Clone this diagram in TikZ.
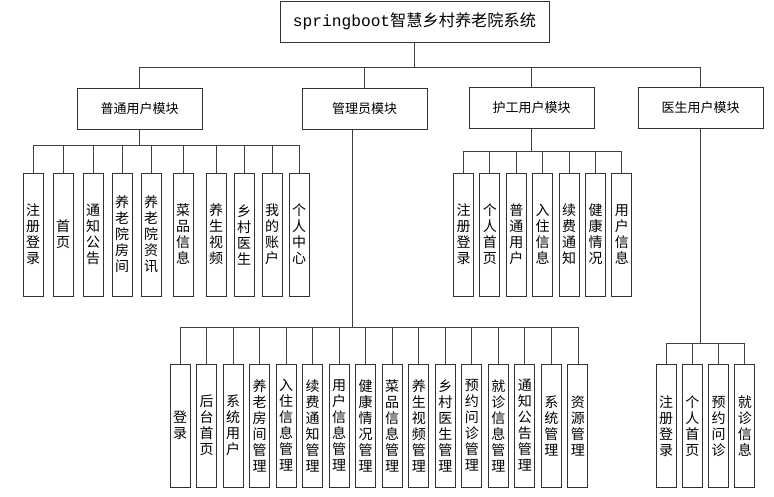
\documentclass[tikz,border=0pt]{standalone}
\usepackage{fontspec}
\setmainfont{Noto Sans CJK SC}
\newfontfamily\latinmono{Liberation Mono}
\tikzset{
	rootbox/.style={draw=black!80,line width=1pt,fill=white,minimum width=269pt,minimum height=41pt,inner sep=0pt,font=\fontsize{16.2}{19}\selectfont},
	modbox/.style={draw=black!80,line width=1pt,fill=white,minimum width=125pt,minimum height=41pt,inner sep=0pt,font=\fontsize{13}{15}\selectfont},
	leafbox/.style={draw=black!80,line width=1pt,fill=white,minimum width=20pt,minimum height=123pt,inner sep=0pt,align=center,font=\fontsize{14}{16}\selectfont},
	link/.style={draw=black!75,line width=0.9pt}
}
\begin{document}
\begin{tikzpicture}[x=1pt,y=-1pt]
	\useasboundingbox (0,0) rectangle (774,496);
	
	% top and module boxes
	\node[rootbox] (sys) at (414.5,21.5) {{\latinmono springboot}智慧乡村养老院系统};
	\node[modbox] (user) at (139.5,108.5) {普通用户模块};
	\node[modbox] (admin) at (364.5,108.5) {管理员模块};
	\node[modbox] (nurse) at (531.5,107.5) {护工用户模块};
	\node[modbox] (doctor) at (700.5,107.5) {医生用户模块};
	
	\coordinate (busTop) at (0,67);
	\draw[link] (sys.south) -- (sys.south |- busTop);
	\draw[link] (user.north |- busTop) -- (doctor.north |- busTop);
	\foreach \m in {user,admin,nurse,doctor}{%
		\draw[link] (\m.north) -- (\m.north |- busTop);
	}
	
	% ordinary user leaves
	\foreach \x/\t [count=\i] in {33/{注\\册\\登\\录},63/{首\\页},93/{通\\知\\公\\告},122/{养\\老\\院\\房\\间},151/{养\\老\\院\\资\\讯},183/{菜\\品\\信\\息},216/{养\\生\\视\\频},244/{乡\\村\\医\\生},272/{我\\的\\账\\户},299/{个\\人\\中\\心}}{%
		\node[leafbox] (u\i) at (\x,234.5) {\t};
	}
	\coordinate (busUser) at (0,145);
	\draw[link] (user.south) -- (user.south |- busUser);
	\draw[link] (u1.north |- busUser) -- (u10.north |- busUser);
	\foreach \i in {1,...,10}{%
		\draw[link] (u\i.north) -- (u\i.north |- busUser);
	}
	
	% admin leaves
	\foreach \t [count=\i] in {{登\\录},{后\\台\\首\\页},{系\\统\\用\\户},{养\\老\\房\\间\\管\\理},{入\\住\\信\\息\\管\\理},{续\\费\\通\\知\\管\\理},{用\\户\\信\\息\\管\\理},{健\\康\\情\\况\\管\\理},{菜\\品\\信\\息\\管\\理},{养\\生\\视\\频\\管\\理},{乡\\村\\医\\生\\管\\理},{预\\约\\问\\诊\\管\\理},{就\\诊\\信\\息\\管\\理},{通\\知\\公\\告\\管\\理},{系\\统\\管\\理},{资\\源\\管\\理}}{%
		\node[leafbox] (a\i) at ({180+(\i-1)*26.53},425.5) {\t};
	}
	\coordinate (busAdmin) at (0,327);
	\coordinate (adminDrop) at ([xshift=-12pt]admin.south);
	\draw[link] (adminDrop) -- (adminDrop |- busAdmin);
	\draw[link] (a1.north |- busAdmin) -- (a16.north |- busAdmin);
	\foreach \i in {1,...,16}{%
		\draw[link] (a\i.north) -- (a\i.north |- busAdmin);
	}
	
	% nurse leaves
	\foreach \t [count=\i] in {{注\\册\\登\\录},{个\\人\\首\\页},{普\\通\\用\\户},{入\\住\\信\\息},{续\\费\\通\\知},{健\\康\\情\\况},{用\\户\\信\\息}}{%
		\node[leafbox] (n\i) at ({463.5+(\i-1)*26.4},234.5) {\t};
	}
	\coordinate (busNurse) at (0,151);
	\draw[link] (nurse.south) -- (nurse.south |- busNurse);
	\draw[link] (n1.north |- busNurse) -- (n7.north |- busNurse);
	\foreach \i in {1,...,7}{%
		\draw[link] (n\i.north) -- (n\i.north |- busNurse);
	}
	
	% doctor leaves
	\foreach \t [count=\i] in {{注\\册\\登\\录},{个\\人\\首\\页},{预\\约\\问\\诊},{就\\诊\\信\\息}}{%
		\node[leafbox] (d\i) at ({666+(\i-1)*26.3},426) {\t};
	}
	\coordinate (busDoctor) at (0,343);
	\draw[link] (doctor.south) -- (doctor.south |- busDoctor);
	\draw[link] (d1.north |- busDoctor) -- (d4.north |- busDoctor);
	\foreach \i in {1,...,4}{%
		\draw[link] (d\i.north) -- (d\i.north |- busDoctor);
	}
\end{tikzpicture}
\end{document}
